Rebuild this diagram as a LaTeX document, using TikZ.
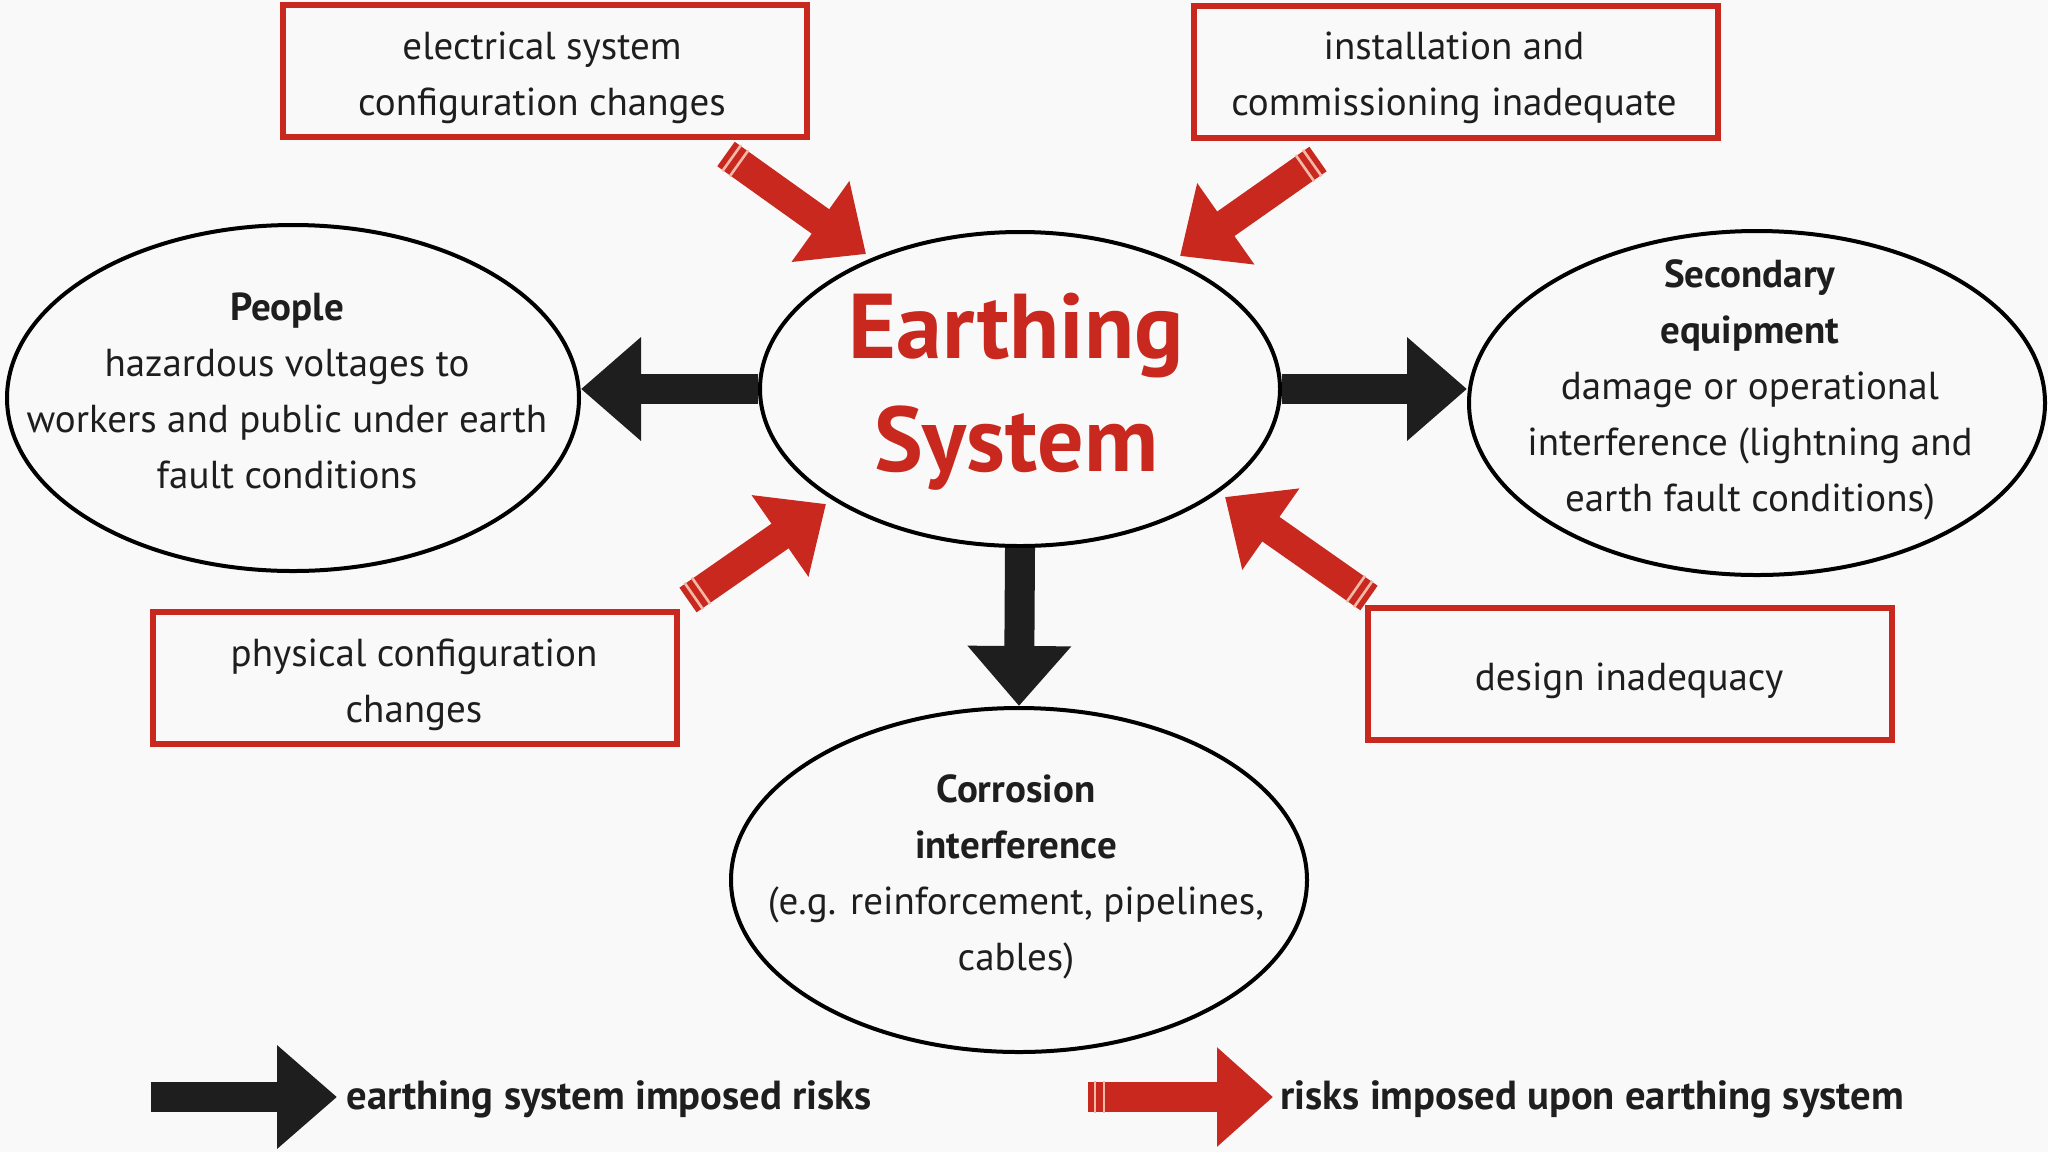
\documentclass[tikz,border=0pt]{standalone}
\usepackage{fontspec}
\setmainfont{PT Sans}
\usetikzlibrary{shapes.geometric,arrows.meta,calc}
\definecolor{rd}{HTML}{C8281E}
\definecolor{ink}{HTML}{1E1E1E}
\definecolor{bg}{HTML}{F9F9F9}
\definecolor{stripe}{HTML}{F4B8A8}
\begin{document}
\begin{tikzpicture}[x=0.5pt,y=-0.5pt,
  txt/.style={font=\fontsize{19.5pt}{28pt}\selectfont, text=ink, align=center, inner sep=0pt},
  oval/.style={ellipse, draw=black, line width=2pt, inner sep=0pt},
  riskbox/.style={rectangle, draw=rd, line width=2.6pt, minimum width=262pt, minimum height=66pt, inner sep=0pt},
  bigtitle/.style={font=\bfseries\fontsize{46pt}{56.5pt}\selectfont, text=rd, align=center, inner sep=0pt},
  blackarr/.style={draw=ink, line width=15pt, -{Triangle[length=30pt,width=50pt]}},
  redarr/.style={draw=rd, line width=15pt, -{Triangle[length=28pt,width=48pt]}},
  stripeline/.style={draw=stripe, line width=1.3pt},
  legend/.style={font=\bfseries\fontsize{20.3pt}{24pt}\selectfont, text=ink, anchor=west, inner sep=0pt}
]
\useasboundingbox[fill=bg] (0,0) rectangle (2048,1152);

% ellipses
\node[oval, minimum width=260pt, minimum height=157pt] (es) at (1020,389) {};
\node[oval, minimum width=286pt, minimum height=173pt] (pp) at (293,398) {};
\node[oval, minimum width=288pt, minimum height=172pt] (sec) at (1757,403) {};
\node[oval, minimum width=288pt, minimum height=172pt] (co) at (1019,880) {};

\node[bigtitle] (est) at ($(es.center)+(-4,3)$) {Earthing\\System};
\node[txt] (ppt) at ($(pp.center)+(-6,-7)$)
  {\textbf{People}\\hazardous voltages to\\workers and public under earth\\fault conditions};
\node[txt] (sect) at ($(sec.center)+(-7,-13)$)
  {\textbf{Secondary}\\\textbf{equipment}\\damage or operational\\interference (lightning and\\earth fault conditions)};
\node[txt] (cot) at ($(co.center)+(-3,-3)$)
  {\textbf{Corrosion}\\\textbf{interference}\\(e.g. reinforcement, pipelines,\\cables)};

% red boxes
\node[riskbox] (b1) at (545,71) {};
\node[riskbox] (b2) at (1456,72) {};
\node[riskbox] (b3) at (415,678) {};
\node[riskbox] (b4) at (1630,674) {};
\node[txt] (b1t) at ($(b1.center)+(-3,7)$) {electrical system\\configuration changes};
\node[txt] (b2t) at ($(b2.center)+(-2,6)$) {installation and\\commissioning inadequate};
\node[txt] (b3t) at ($(b3.center)+(-1,7)$) {physical configuration\\changes};
\node[txt] (b4t) at ($(b4.center)+(-1,7)$) {design inadequacy};

% black arrows
\draw[blackarr] (es.west) -- (es.west -| pp.east);
\draw[blackarr] (es.east) -- (es.east -| sec.west);
\draw[blackarr] (es.south) -- (co.north);

% red arrows
\coordinate (t1) at (726,154); \coordinate (h1) at (866,254);
\coordinate (t2) at (1318,159); \coordinate (h2) at (1180,256);
\coordinate (t3) at (688,600); \coordinate (h3) at (826,504);
\coordinate (t4) at (1369,598); \coordinate (h4) at (1225,497);
\foreach \t/\h in {t1/h1,t2/h2,t3/h3,t4/h4}{
  \draw[redarr] (\t) -- (\h);
  \foreach \d in {3.5pt,8pt}{
    \draw[stripeline] ($(\t)!\d!(\h)!8pt!90:(\h)$) -- ($(\t)!\d!(\h)!8pt!-90:(\h)$);
  }
}

% legend
\coordinate (lb1) at (151,1097); \coordinate (lb2) at (337,1097);
\draw[blackarr] (lb1) -- (lb2);
\node[legend] (lt1) at (346,1099) {earthing system imposed risks};
\coordinate (lr1) at (1088,1097); \coordinate (lr2) at (1273,1097);
\draw[redarr] (lr1) -- (lr2);
\foreach \d in {3.5pt,8pt}{
  \draw[stripeline] ($(lr1)!\d!(lr2)!8pt!90:(lr2)$) -- ($(lr1)!\d!(lr2)!8pt!-90:(lr2)$);
}
\node[legend] (lt2) at (1280,1099) {risks imposed upon earthing system};
\end{tikzpicture}
\end{document}
